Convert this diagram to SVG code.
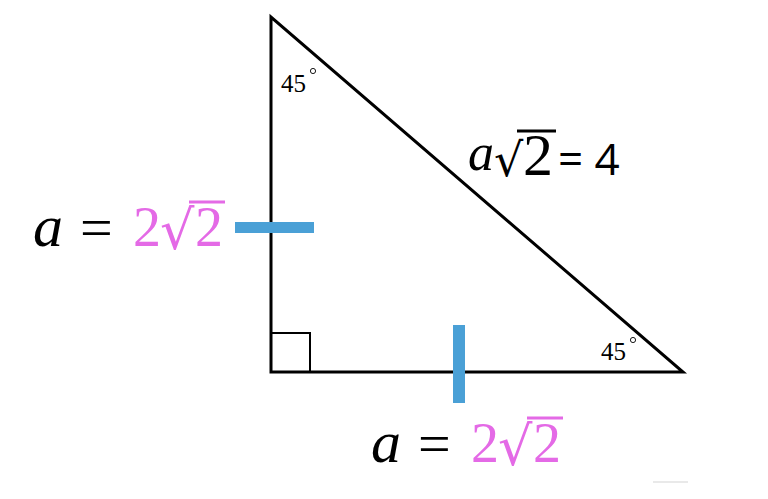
<svg xmlns="http://www.w3.org/2000/svg" width="768" height="499" viewBox="0 0 768 499">
<style>
.math{font-family:"Liberation Serif","DejaVu Serif",serif;fill:#000}
.it{font-style:italic}
.mag{fill:#e46ae6}
.rad{font-family:"DejaVu Sans",sans-serif;font-style:normal}
.sans{font-family:"Open Sans","Liberation Sans",sans-serif;fill:#000}
.tick{fill:#4aa0d6}
.edge{fill:none;stroke:#000;stroke-width:3;stroke-linejoin:miter}
</style>
<rect width="768" height="499" fill="#fff"/>
<g id="triangle">
<polygon class="edge" points="271,17 271,372 683,372"/>
<rect x="271" y="333" width="39" height="39" fill="none" stroke="#000" stroke-width="2"/>
</g>
<g id="connectors">
<rect class="tick" x="235" y="222" width="79" height="11"/>
<rect class="tick" x="453" y="325" width="12" height="78"/>
</g>
<g id="angle-top">
<text class="math" x="281" y="92" font-size="25">45</text>
<circle cx="313" cy="71" r="2.6" fill="none" stroke="#000" stroke-width="0.9"/>
</g>
<g id="angle-right">
<text class="math" x="601" y="360" font-size="25">45</text>
<circle cx="633" cy="340" r="2.6" fill="none" stroke="#000" stroke-width="0.9"/>
</g>
<g id="label-hyp">
<text class="math" y="175" font-size="60"><tspan class="it" x="468" y="170" font-size="52">a</tspan><tspan class="rad" x="494" y="176" font-size="46">√</tspan><tspan x="523" y="175">2</tspan></text>
<line x1="517" y1="131" x2="556" y2="131" stroke="#000" stroke-width="2.8"/>
<text class="sans" x="558" y="175" font-size="44">= 4</text>
</g>
<g id="label-left">
<text class="math" y="246" font-size="56"><tspan class="it" x="33" font-size="60">a</tspan><tspan x="80" y="247" font-size="58">=</tspan><tspan class="mag" x="133" y="246">2</tspan><tspan class="mag rad" x="160" y="249" font-size="54">√</tspan><tspan class="mag" x="195" y="246">2</tspan></text>
<line x1="189" y1="202" x2="225" y2="202" stroke="#e46ae6" stroke-width="2.8"/>
</g>
<g id="label-bottom">
<text class="math" y="462" font-size="56"><tspan class="it" x="371" font-size="60">a</tspan><tspan x="418" y="463" font-size="58">=</tspan><tspan class="mag" x="471" y="462">2</tspan><tspan class="mag rad" x="498" y="465" font-size="54">√</tspan><tspan class="mag" x="533" y="462">2</tspan></text>
<line x1="527" y1="418" x2="563" y2="418" stroke="#e46ae6" stroke-width="2.8"/>
</g>
<line x1="653" y1="482" x2="688" y2="482" stroke="#e2e2e2" stroke-width="1.5"/>
</svg>
